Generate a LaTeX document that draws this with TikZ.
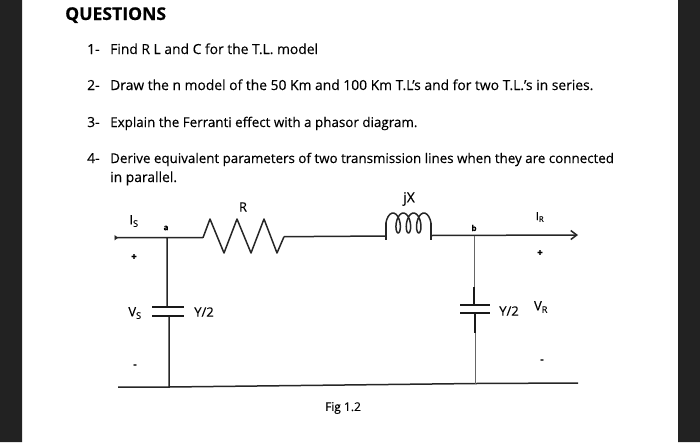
\documentclass[tikz,border=0pt]{standalone}
\usepackage{fontspec}
\setmainfont[FakeBold=0.25]{Open Sans}
\usetikzlibrary{arrows.meta}
\definecolor{sidebar}{HTML}{222222}
\begin{document}
\begin{tikzpicture}[x=1pt,y=-1pt,
 qtext/.style={anchor=base west,inner sep=0pt,font=\fontsize{13.85}{15}\selectfont},
 lbl/.style={inner sep=0pt,font=\fontsize{13}{14}\selectfont},
 tiny/.style={inner sep=0pt,font=\bfseries\fontsize{8}{9}\selectfont},
 sign/.style={inner sep=0pt,font=\bfseries\fontsize{10}{10}\selectfont},
 wire/.style={line width=1.5pt,black!85},
 thinwire/.style={line width=.8pt,black!60},
 plate/.style={line width=2.2pt,black!90}]
\useasboundingbox (0,0) rectangle (700,442);
\fill[sidebar] (0,0) rectangle (22,442) (678,0) rectangle (700,442);
% questions
\node[qtext,font=\bfseries\fontsize{17.6}{19}\selectfont] (qhead) at (65,20) {QUESTIONS};
\foreach \N/\Y/\S/\T in {1/54/13.85/Find R L and C for the T.L. model,
 2/90/13.85/Draw the n model of the 50 Km and 100 Km T.L's and for two T.L.'s in series.,
 3/127/13.4/Explain the Ferranti effect with a phasor diagram.,
 4/163/13.37/Derive equivalent parameters of two transmission lines when they are connected}
 {\node[qtext] (num\N) at (87,\Y) {\N-};
  \node[qtext,font=\fontsize{\S}{15}\selectfont] (q\N) at (110,\Y) {\T};}
\node[qtext] (q4b) at (110,182) {in parallel.};
% circuit points
\coordinate (in) at (115,237.7);
\coordinate (a) at (167,237.7);
\coordinate (r1) at (203,237.7);
\coordinate (r2) at (284,236.7);
\coordinate (l1) at (386,236);
\coordinate (l2) at (431,235.5);
\coordinate (b) at (474,235.5);
\coordinate (out) at (578,235);
\coordinate (c1t) at (167,307);
\coordinate (c1b) at (169,316);
\coordinate (gl) at (118,387);
\coordinate (g1) at (169,387);
\coordinate (g2) at (475,383.5);
\coordinate (gr) at (578,383);
\coordinate (c2t) at (474,305);
\coordinate (c2b) at (475,313);
\draw[wire,-{Straight Barb[length=6pt,width=9pt]}] (l2) -- (out);
\draw[wire] (in) -- (r1) (r2) -- (l1) (a) -- (c1t) (c1b) -- (g1) (gl) -- (g1) -- (g2) -- (gr);
\draw[wire,-{Latex[length=4pt,width=6pt]}] (in) -- ++(3.5,0);
% resistor
\draw[wire,line join=round] (r1) -- (210,219) -- (224,253) -- (237,219) -- (251,253) -- (264,219) -- (277,253) -- (r2);
% inductor
\draw[wire,line join=round] plot[smooth,domain=-90:1170,samples=64] ({393+\x/360*10.3+4.5*sin(\x)},{223-10*cos(\x)});
\draw[wire] (386,223) -- (386,240) (431,223) -- (431,240);
% capacitors
\draw[plate] (152,307) -- (184,307) (152,316) -- (184,316);
\draw[plate] (460,305) -- (490,305) (460,313) -- (490,313);
\draw[thinwire] (b) -- (474,287) (475,333) -- (g2);
\draw[line width=1.7pt,black!90] (474,287) -- (c2t) (c2b) -- (475,333);
% labels
\node[lbl] (lR) at (243,207) {R};
\node[lbl,font=\fontsize{14}{15}\selectfont] (lX) at (409,199) {jX};
\node[lbl] (lIs) at (134,221) {I\textsubscript{S}};
\node[tiny] (la) at (166,228) {a};
\node[sign] (ps) at (134,257) {+};
\node[lbl] (lVs) at (135,313) {V\textsubscript{S}};
\node[lbl] (ly1) at (204,312) {Y/2};
\node[sign] (ms) at (135,366) {-};
\node[tiny] (lb) at (474,228) {b};
\node[lbl,font=\fontsize{11}{12}\selectfont] (lIr) at (540,217) {I\textsubscript{R}};
\node[sign] (pr) at (540,253) {+};
\node[lbl] (lVr) at (541,307) {V\textsubscript{R}};
\node[lbl] (ly2) at (509,311) {Y/2};
\node[sign] (mr) at (542,361) {-};
\node[lbl,font=\fontsize{12}{13}\selectfont] (lfig) at (343,408) {Fig 1.2};
\end{tikzpicture}
\end{document}
